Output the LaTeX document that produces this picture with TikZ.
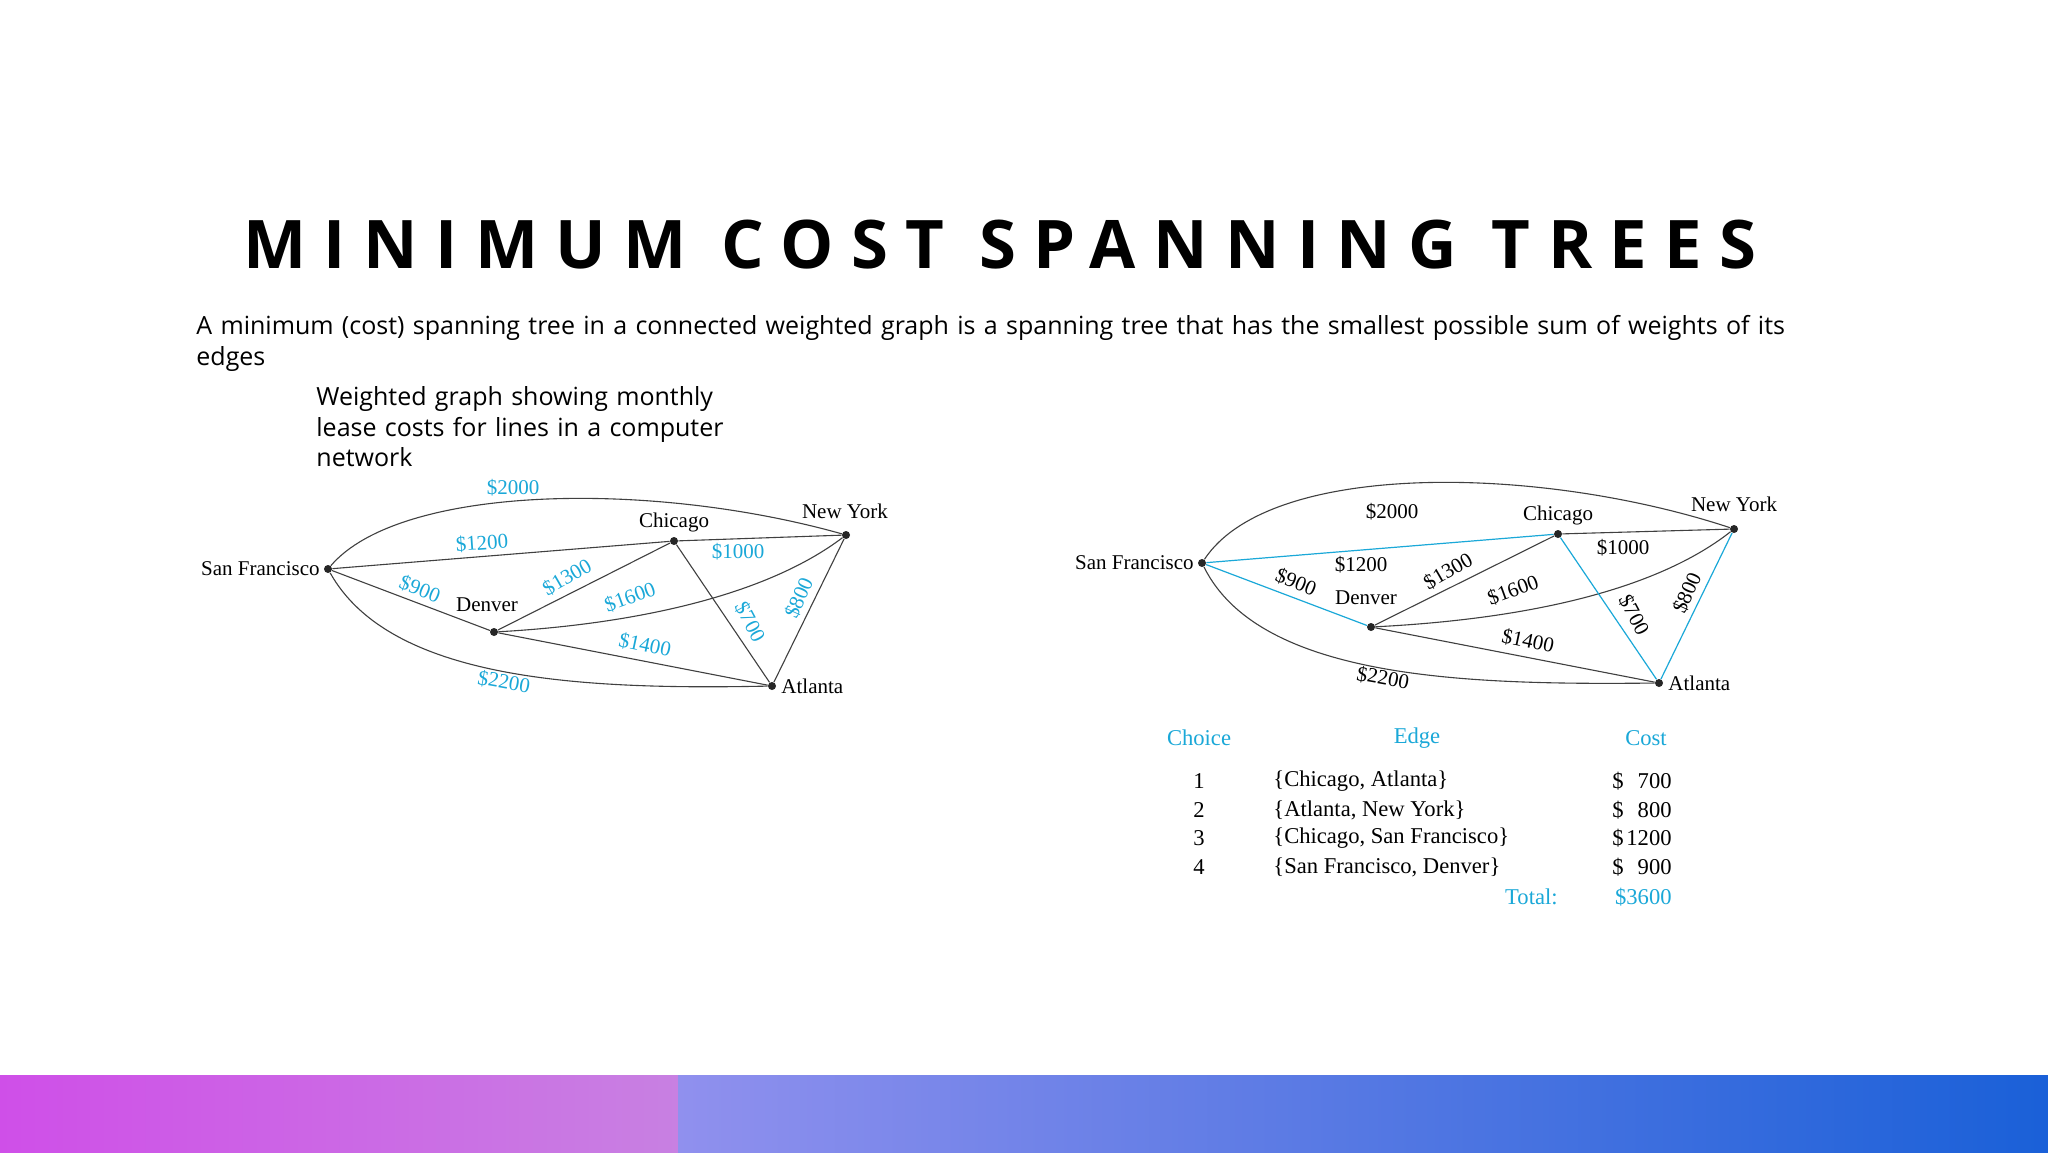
\documentclass[tikz,border=0pt]{standalone}
\usepackage{fontspec}
\setmainfont{Liberation Serif}
\newfontfamily\titlefont[LetterSpace=26]{Open Sans}
\newfontfamily\bodyfont{Open Sans}
\begin{document}
\begin{tikzpicture}[x=0.5pt,y=-0.5pt,
  city/.style={circle,fill=black!85,inner sep=0pt,minimum size=4pt},
  lbl/.style={font=\fontsize{10.5}{12}\selectfont,inner sep=0pt},
  wt/.style={font=\fontsize{10.5}{12}\selectfont,inner sep=0pt,text=cyanw},
  wb/.style={font=\fontsize{10.5}{12}\selectfont,inner sep=0pt},
  edge/.style={draw=black!75,line width=0.55pt},
  tree/.style={draw=cyanw,line width=0.6pt},
  tb/.style={font=\fontsize{11.3}{13}\selectfont,inner sep=0pt}]
\definecolor{cyanw}{HTML}{1AA8D8}
\definecolor{magA}{HTML}{CF4FE8}
\definecolor{magB}{HTML}{C880E2}
\definecolor{bluA}{HTML}{9090EE}
\definecolor{bluB}{HTML}{1A60D8}
\useasboundingbox (0,0) rectangle (2048,1152);
\fill[white] (0,0) rectangle (2048,1152);
\shade[left color=magA,right color=magB] (0,1075) rectangle (678,1152);
\shade[left color=bluA,right color=bluB] (678,1075) rectangle (2048,1152);
\node[font=\titlefont\bfseries\fontsize{33.5}{40}\selectfont,inner sep=0pt] (title) at (1000,245) {MINIMUM COST SPANNING TREES};
\node[font=\bodyfont\fontsize{12.5}{15.3}\selectfont,inner sep=0pt,anchor=north west,text width=820pt,align=left] (def) at (196,315) {A minimum (cost) spanning tree in a connected weighted graph is a spanning tree that has the smallest possible sum of weights of its edges};
\node[font=\bodyfont\fontsize{12.5}{15.3}\selectfont,inner sep=0pt,anchor=north west,text width=215pt,align=left] (cap) at (316,386) {Weighted graph showing monthly lease costs for lines in a computer network};
% left graph
\node[city] (sf) at (328,569) {};
\node[city] (ch) at (674,541) {};
\node[city] (ny) at (846,535) {};
\node[city] (de) at (494,632) {};
\node[city] (at) at (772,686) {};
\node[lbl,anchor=east] (lsf) at (320,569) {San Francisco};
\node[lbl] (lch) at (674,522) {Chicago};
\node[lbl] (lny) at (845,511) {New York};
\node[lbl] (lde) at (487,605) {Denver};
\node[lbl,anchor=west] (lat) at (781,686) {Atlanta};
\draw[edge] (sf) .. controls (400,485) and (650,480) .. (ny);
\draw[edge] (sf) .. controls (390,680) and (580,690) .. (at);
\draw[edge] (de) .. controls (620,625) and (760,600) .. (ny);
\draw[edge] (sf) -- (ch); \draw[edge] (sf) -- (de); \draw[edge] (ch) -- (ny);
\draw[edge] (de) -- (ch); \draw[edge] (de) -- (at); \draw[edge] (ch) -- (at); \draw[edge] (ny) -- (at);
\node[wt] (w1) at (513,488) {\$2000};
\node[wt,rotate=4] (w2) at (482,543) {\$1200};
\node[wt,rotate=-22] (w3) at (420,589) {\$900};
\node[wt,rotate=30] (w4) at (567,577) {\$1300};
\node[wt,rotate=20] (w5) at (630,597) {\$1600};
\node[wt] (w6) at (738,552) {\$1000};
\node[wt,rotate=-62] (w7) at (750,622) {\$700};
\node[wt,rotate=66] (w8) at (799,598) {\$800};
\node[wt,rotate=-12] (w9) at (645,645) {\$1400};
\node[wt,rotate=-10] (w10) at (504,682) {\$2200};
% right graph
\node[city] (rsf) at (1202,563) {};
\node[city] (rch) at (1558,534) {};
\node[city] (rny) at (1734,529) {};
\node[city] (rde) at (1371,627) {};
\node[city] (rat) at (1659,683) {};
\node[lbl,anchor=east] (lrsf) at (1194,563) {San Francisco};
\node[lbl] (lrch) at (1558,515) {Chicago};
\node[lbl] (lrny) at (1734,504) {New York};
\node[lbl] (lrde) at (1366,598) {Denver};
\node[lbl,anchor=west] (lrat) at (1668,683) {Atlanta};
\draw[edge] (rsf) .. controls (1270,460) and (1540,465) .. (rny);
\draw[edge] (rsf) .. controls (1260,680) and (1470,685) .. (rat);
\draw[edge] (rde) .. controls (1510,620) and (1650,595) .. (rny);
\draw[edge] (rch) -- (rny); \draw[edge] (rde) -- (rch); \draw[edge] (rde) -- (rat);
\draw[tree] (rsf) -- (rch); \draw[tree] (rsf) -- (rde); \draw[tree] (rch) -- (rat); \draw[tree] (rny) -- (rat);
\node[wb] (r1) at (1392,512) {\$2000};
\node[wb] (r2) at (1361,565) {\$1200};
\node[wb,rotate=-22] (r3) at (1296,582) {\$900};
\node[wb,rotate=30] (r4) at (1448,571) {\$1300};
\node[wb,rotate=20] (r5) at (1513,590) {\$1600};
\node[wb] (r6) at (1623,548) {\$1000};
\node[wb,rotate=-62] (r7) at (1634,615) {\$700};
\node[wb,rotate=66] (r8) at (1687,593) {\$800};
\node[wb,rotate=-12] (r9) at (1528,641) {\$1400};
\node[wb,rotate=-10] (r10) at (1383,678) {\$2200};
% table
\node[tb,text=cyanw] (hc) at (1199,738) {Choice};
\node[tb,text=cyanw] (he) at (1417,738) {Edge};
\node[tb,text=cyanw] (hk) at (1646,738) {Cost};
\foreach \n/\y/\e/\c in {1/781/{\{Chicago, Atlanta\}}/700,2/810/{\{Atlanta, New York\}}/800,3/838/{\{Chicago, San Francisco\}}/1200,4/867/{\{San Francisco, Denver\}}/900}{
  \node[tb] (n\n) at (1199,\y) {\n};
  \node[tb,anchor=west] (e\n) at (1273,\y) {\e};
  \node[tb,anchor=west] (d\n) at (1612,\y) {\$};
  \node[tb,anchor=east] (c\n) at (1672,\y) {\c};
}
\node[tb,text=cyanw,anchor=east] (tl) at (1558,897) {Total:};
\node[tb,text=cyanw,anchor=east] (tv) at (1672,897) {\$3600};
\end{tikzpicture}
\end{document}
